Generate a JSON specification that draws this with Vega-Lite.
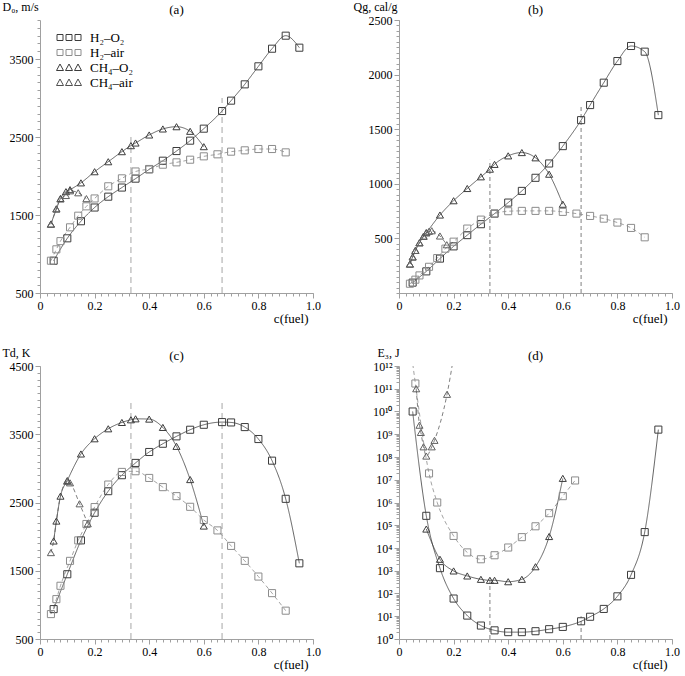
{
"$schema":"https://vega.github.io/schema/vega-lite/v6.json",
"padding":{"left":2,"top":0,"right":5,"bottom":5},
"config":{"view":{"stroke":null},"font":"Liberation Serif",
 "axis":{"labelFont":"Liberation Serif","titleFont":"Liberation Serif","labelFontSize":12,"titleFontWeight":"normal","titleColor":"#000","labelColor":"#000","grid":false,"domainColor":"#a0a0a0","tickColor":"#a0a0a0","labelFlush":false,"labelOverlap":false},
 "title":{"font":"Liberation Serif","fontSize":13,"fontWeight":"normal"},
 "legend":{"labelFont":"Liberation Serif"}},
"datasets":{
"rules":[
{"p":"a","c":0.333,"lo":500,"hi":2500},{"p":"a","c":0.667,"lo":500,"hi":3000},
{"p":"b","c":0.333,"lo":0,"hi":1220},{"p":"b","c":0.667,"lo":0,"hi":1720},
{"p":"c","c":0.333,"lo":500,"hi":4000},{"p":"c","c":0.667,"lo":500,"hi":4000},
{"p":"d","c":0.333,"lo":1,"hi":400},{"p":"d","c":0.667,"lo":1,"hi":10}],
"pts":[
{"p":"a","s":"H₂–O₂","c":0.05,"v":914,"m":1},{"p":"a","s":"H₂–O₂","c":0.1,"v":1201,"m":1},{"p":"a","s":"H₂–O₂","c":0.15,"v":1420,"m":1},{"p":"a","s":"H₂–O₂","c":0.2,"v":1596,"m":1},{"p":"a","s":"H₂–O₂","c":0.25,"v":1735,"m":1},{"p":"a","s":"H₂–O₂","c":0.3,"v":1852,"m":1},{"p":"a","s":"H₂–O₂","c":0.35,"v":1966,"m":1},{"p":"a","s":"H₂–O₂","c":0.4,"v":2085,"m":1},{"p":"a","s":"H₂–O₂","c":0.45,"v":2196,"m":1},{"p":"a","s":"H₂–O₂","c":0.5,"v":2320,"m":1},{"p":"a","s":"H₂–O₂","c":0.55,"v":2453,"m":1},{"p":"a","s":"H₂–O₂","c":0.6,"v":2607,"m":1},{"p":"a","s":"H₂–O₂","c":0.667,"v":2833,"m":1},{"p":"a","s":"H₂–O₂","c":0.7,"v":2966,"m":1},{"p":"a","s":"H₂–O₂","c":0.75,"v":3175,"m":1},{"p":"a","s":"H₂–O₂","c":0.8,"v":3406,"m":1},{"p":"a","s":"H₂–O₂","c":0.85,"v":3632,"m":1},{"p":"a","s":"H₂–O₂","c":0.9,"v":3799,"m":1},{"p":"a","s":"H₂–O₂","c":0.95,"v":3645,"m":1},
{"p":"a","s":"H₂–air","c":0.04,"v":914,"m":1},{"p":"a","s":"H₂–air","c":0.06,"v":1060,"m":1},{"p":"a","s":"H₂–air","c":0.075,"v":1165,"m":1},{"p":"a","s":"H₂–air","c":0.11,"v":1342,"m":1},{"p":"a","s":"H₂–air","c":0.14,"v":1491,"m":1},{"p":"a","s":"H₂–air","c":0.17,"v":1611,"m":1},{"p":"a","s":"H₂–air","c":0.2,"v":1712,"m":1},{"p":"a","s":"H₂–air","c":0.25,"v":1868,"m":1},{"p":"a","s":"H₂–air","c":0.3,"v":1970,"m":1},{"p":"a","s":"H₂–air","c":0.35,"v":2058,"m":1},{"p":"a","s":"H₂–air","c":0.4,"v":2090,"m":1},{"p":"a","s":"H₂–air","c":0.45,"v":2145,"m":1},{"p":"a","s":"H₂–air","c":0.5,"v":2175,"m":1},{"p":"a","s":"H₂–air","c":0.55,"v":2209,"m":1},{"p":"a","s":"H₂–air","c":0.6,"v":2252,"m":1},{"p":"a","s":"H₂–air","c":0.65,"v":2278,"m":1},{"p":"a","s":"H₂–air","c":0.7,"v":2312,"m":1},{"p":"a","s":"H₂–air","c":0.75,"v":2329,"m":1},{"p":"a","s":"H₂–air","c":0.8,"v":2346,"m":1},{"p":"a","s":"H₂–air","c":0.85,"v":2346,"m":1},{"p":"a","s":"H₂–air","c":0.9,"v":2303,"m":1},
{"p":"a","s":"CH₄–O₂","c":0.04,"v":1385,"m":1},{"p":"a","s":"CH₄–O₂","c":0.06,"v":1577,"m":1},{"p":"a","s":"CH₄–O₂","c":0.075,"v":1712,"m":1},{"p":"a","s":"CH₄–O₂","c":0.095,"v":1799,"m":1},{"p":"a","s":"CH₄–O₂","c":0.11,"v":1825,"m":1},{"p":"a","s":"CH₄–O₂","c":0.15,"v":1912,"m":1},{"p":"a","s":"CH₄–O₂","c":0.2,"v":2055,"m":1},{"p":"a","s":"CH₄–O₂","c":0.25,"v":2183,"m":1},{"p":"a","s":"CH₄–O₂","c":0.3,"v":2312,"m":1},{"p":"a","s":"CH₄–O₂","c":0.333,"v":2389,"m":1},{"p":"a","s":"CH₄–O₂","c":0.35,"v":2423,"m":1},{"p":"a","s":"CH₄–O₂","c":0.4,"v":2526,"m":1},{"p":"a","s":"CH₄–O₂","c":0.45,"v":2603,"m":1},{"p":"a","s":"CH₄–O₂","c":0.5,"v":2632,"m":1},{"p":"a","s":"CH₄–O₂","c":0.55,"v":2573,"m":1},{"p":"a","s":"CH₄–O₂","c":0.6,"v":2376,"m":1},
{"p":"a","s":"CH₄–air","c":0.04,"v":1380,"m":1},{"p":"a","s":"CH₄–air","c":0.06,"v":1580,"m":1},{"p":"a","s":"CH₄–air","c":0.075,"v":1705,"m":1},{"p":"a","s":"CH₄–air","c":0.095,"v":1750,"m":1},{"p":"a","s":"CH₄–air","c":0.11,"v":1810,"m":1},{"p":"a","s":"CH₄–air","c":0.14,"v":1785,"m":1},{"p":"a","s":"CH₄–air","c":0.17,"v":1710,"m":1},
{"p":"b","s":"H₂–O₂","c":0.05,"v":95,"m":1},{"p":"b","s":"H₂–O₂","c":0.1,"v":198,"m":1},{"p":"b","s":"H₂–O₂","c":0.15,"v":315,"m":1},{"p":"b","s":"H₂–O₂","c":0.2,"v":427,"m":1},{"p":"b","s":"H₂–O₂","c":0.25,"v":530,"m":1},{"p":"b","s":"H₂–O₂","c":0.3,"v":630,"m":1},{"p":"b","s":"H₂–O₂","c":0.35,"v":727,"m":1},{"p":"b","s":"H₂–O₂","c":0.4,"v":828,"m":1},{"p":"b","s":"H₂–O₂","c":0.45,"v":935,"m":1},{"p":"b","s":"H₂–O₂","c":0.5,"v":1055,"m":1},{"p":"b","s":"H₂–O₂","c":0.55,"v":1186,"m":1},{"p":"b","s":"H₂–O₂","c":0.6,"v":1345,"m":1},{"p":"b","s":"H₂–O₂","c":0.667,"v":1583,"m":1},{"p":"b","s":"H₂–O₂","c":0.7,"v":1721,"m":1},{"p":"b","s":"H₂–O₂","c":0.75,"v":1926,"m":1},{"p":"b","s":"H₂–O₂","c":0.8,"v":2124,"m":1},{"p":"b","s":"H₂–O₂","c":0.85,"v":2262,"m":1},{"p":"b","s":"H₂–O₂","c":0.9,"v":2210,"m":1},{"p":"b","s":"H₂–O₂","c":0.95,"v":1629,"m":1},
{"p":"b","s":"H₂–air","c":0.04,"v":85,"m":1},{"p":"b","s":"H₂–air","c":0.06,"v":122,"m":1},{"p":"b","s":"H₂–air","c":0.075,"v":161,"m":1},{"p":"b","s":"H₂–air","c":0.11,"v":240,"m":1},{"p":"b","s":"H₂–air","c":0.14,"v":320,"m":1},{"p":"b","s":"H₂–air","c":0.17,"v":406,"m":1},{"p":"b","s":"H₂–air","c":0.2,"v":470,"m":1},{"p":"b","s":"H₂–air","c":0.25,"v":590,"m":1},{"p":"b","s":"H₂–air","c":0.3,"v":672,"m":1},{"p":"b","s":"H₂–air","c":0.35,"v":727,"m":1},{"p":"b","s":"H₂–air","c":0.4,"v":749,"m":1},{"p":"b","s":"H₂–air","c":0.45,"v":752,"m":1},{"p":"b","s":"H₂–air","c":0.5,"v":752,"m":1},{"p":"b","s":"H₂–air","c":0.55,"v":752,"m":1},{"p":"b","s":"H₂–air","c":0.6,"v":743,"m":1},{"p":"b","s":"H₂–air","c":0.65,"v":727,"m":1},{"p":"b","s":"H₂–air","c":0.7,"v":706,"m":1},{"p":"b","s":"H₂–air","c":0.75,"v":681,"m":1},{"p":"b","s":"H₂–air","c":0.8,"v":645,"m":1},{"p":"b","s":"H₂–air","c":0.85,"v":596,"m":1},{"p":"b","s":"H₂–air","c":0.9,"v":510,"m":1},
{"p":"b","s":"CH₄–O₂","c":0.04,"v":265,"m":1},{"p":"b","s":"CH₄–O₂","c":0.05,"v":330,"m":1},{"p":"b","s":"CH₄–O₂","c":0.06,"v":390,"m":1},{"p":"b","s":"CH₄–O₂","c":0.075,"v":460,"m":1},{"p":"b","s":"CH₄–O₂","c":0.09,"v":520,"m":1},{"p":"b","s":"CH₄–O₂","c":0.1,"v":552,"m":1},{"p":"b","s":"CH₄–O₂","c":0.15,"v":714,"m":1},{"p":"b","s":"CH₄–O₂","c":0.2,"v":845,"m":1},{"p":"b","s":"CH₄–O₂","c":0.25,"v":957,"m":1},{"p":"b","s":"CH₄–O₂","c":0.3,"v":1064,"m":1},{"p":"b","s":"CH₄–O₂","c":0.333,"v":1134,"m":1},{"p":"b","s":"CH₄–O₂","c":0.35,"v":1178,"m":1},{"p":"b","s":"CH₄–O₂","c":0.4,"v":1256,"m":1},{"p":"b","s":"CH₄–O₂","c":0.45,"v":1286,"m":1},{"p":"b","s":"CH₄–O₂","c":0.5,"v":1238,"m":1},{"p":"b","s":"CH₄–O₂","c":0.55,"v":1088,"m":1},{"p":"b","s":"CH₄–O₂","c":0.6,"v":813,"m":1},
{"p":"b","s":"CH₄–air","c":0.04,"v":265,"m":1},{"p":"b","s":"CH₄–air","c":0.05,"v":330,"m":1},{"p":"b","s":"CH₄–air","c":0.06,"v":390,"m":1},{"p":"b","s":"CH₄–air","c":0.075,"v":460,"m":1},{"p":"b","s":"CH₄–air","c":0.09,"v":520,"m":1},{"p":"b","s":"CH₄–air","c":0.1,"v":552,"m":1},{"p":"b","s":"CH₄–air","c":0.11,"v":565,"m":1},{"p":"b","s":"CH₄–air","c":0.12,"v":570,"m":1},{"p":"b","s":"CH₄–air","c":0.15,"v":522,"m":1},{"p":"b","s":"CH₄–air","c":0.175,"v":442,"m":1},
{"p":"c","s":"H₂–O₂","c":0.05,"v":938,"m":1},{"p":"c","s":"H₂–O₂","c":0.1,"v":1449,"m":1},{"p":"c","s":"H₂–O₂","c":0.15,"v":1945,"m":1},{"p":"c","s":"H₂–O₂","c":0.2,"v":2350,"m":1},{"p":"c","s":"H₂–O₂","c":0.25,"v":2666,"m":1},{"p":"c","s":"H₂–O₂","c":0.3,"v":2900,"m":1},{"p":"c","s":"H₂–O₂","c":0.35,"v":3080,"m":1},{"p":"c","s":"H₂–O₂","c":0.4,"v":3240,"m":1},{"p":"c","s":"H₂–O₂","c":0.45,"v":3361,"m":1},{"p":"c","s":"H₂–O₂","c":0.5,"v":3469,"m":1},{"p":"c","s":"H₂–O₂","c":0.55,"v":3566,"m":1},{"p":"c","s":"H₂–O₂","c":0.6,"v":3639,"m":1},{"p":"c","s":"H₂–O₂","c":0.667,"v":3678,"m":1},{"p":"c","s":"H₂–O₂","c":0.7,"v":3673,"m":1},{"p":"c","s":"H₂–O₂","c":0.75,"v":3605,"m":1},{"p":"c","s":"H₂–O₂","c":0.8,"v":3430,"m":1},{"p":"c","s":"H₂–O₂","c":0.85,"v":3113,"m":1},{"p":"c","s":"H₂–O₂","c":0.9,"v":2554,"m":1},{"p":"c","s":"H₂–O₂","c":0.95,"v":1609,"m":1},
{"p":"c","s":"H₂–air","c":0.04,"v":865,"m":1},{"p":"c","s":"H₂–air","c":0.06,"v":1084,"m":1},{"p":"c","s":"H₂–air","c":0.075,"v":1280,"m":1},{"p":"c","s":"H₂–air","c":0.11,"v":1645,"m":1},{"p":"c","s":"H₂–air","c":0.14,"v":1945,"m":1},{"p":"c","s":"H₂–air","c":0.17,"v":2185,"m":1},{"p":"c","s":"H₂–air","c":0.2,"v":2433,"m":1},{"p":"c","s":"H₂–air","c":0.25,"v":2763,"m":1},{"p":"c","s":"H₂–air","c":0.3,"v":2948,"m":1},{"p":"c","s":"H₂–air","c":0.35,"v":2958,"m":1},{"p":"c","s":"H₂–air","c":0.4,"v":2860,"m":1},{"p":"c","s":"H₂–air","c":0.45,"v":2725,"m":1},{"p":"c","s":"H₂–air","c":0.5,"v":2593,"m":1},{"p":"c","s":"H₂–air","c":0.55,"v":2437,"m":1},{"p":"c","s":"H₂–air","c":0.6,"v":2243,"m":1},{"p":"c","s":"H₂–air","c":0.65,"v":2091,"m":1},{"p":"c","s":"H₂–air","c":0.7,"v":1864,"m":1},{"p":"c","s":"H₂–air","c":0.75,"v":1645,"m":1},{"p":"c","s":"H₂–air","c":0.8,"v":1415,"m":1},{"p":"c","s":"H₂–air","c":0.85,"v":1172,"m":1},{"p":"c","s":"H₂–air","c":0.9,"v":915,"m":1},
{"p":"c","s":"CH₄–O₂","c":0.05,"v":1936,"m":1},{"p":"c","s":"CH₄–O₂","c":0.06,"v":2228,"m":1},{"p":"c","s":"CH₄–O₂","c":0.075,"v":2593,"m":1},{"p":"c","s":"CH₄–O₂","c":0.1,"v":2821,"m":1},{"p":"c","s":"CH₄–O₂","c":0.15,"v":3211,"m":1},{"p":"c","s":"CH₄–O₂","c":0.2,"v":3434,"m":1},{"p":"c","s":"CH₄–O₂","c":0.25,"v":3580,"m":1},{"p":"c","s":"CH₄–O₂","c":0.3,"v":3673,"m":1},{"p":"c","s":"CH₄–O₂","c":0.333,"v":3712,"m":1},{"p":"c","s":"CH₄–O₂","c":0.35,"v":3726,"m":1},{"p":"c","s":"CH₄–O₂","c":0.4,"v":3722,"m":1},{"p":"c","s":"CH₄–O₂","c":0.45,"v":3600,"m":1},{"p":"c","s":"CH₄–O₂","c":0.5,"v":3323,"m":1},{"p":"c","s":"CH₄–O₂","c":0.55,"v":2836,"m":1},{"p":"c","s":"CH₄–O₂","c":0.6,"v":2155,"m":1},
{"p":"c","s":"CH₄–air","c":0.04,"v":1766,"m":1},{"p":"c","s":"CH₄–air","c":0.05,"v":1936,"m":0},{"p":"c","s":"CH₄–air","c":0.06,"v":2228,"m":0},{"p":"c","s":"CH₄–air","c":0.075,"v":2593,"m":0},{"p":"c","s":"CH₄–air","c":0.1,"v":2810,"m":1},{"p":"c","s":"CH₄–air","c":0.11,"v":2788,"m":1},{"p":"c","s":"CH₄–air","c":0.145,"v":2481,"m":1},{"p":"c","s":"CH₄–air","c":0.175,"v":2189,"m":1},
{"p":"d","s":"H₂–O₂","c":0.05,"v":1e10,"m":1},{"p":"d","s":"H₂–O₂","c":0.1,"v":2.6e5,"m":1},{"p":"d","s":"H₂–O₂","c":0.15,"v":1300,"m":1},{"p":"d","s":"H₂–O₂","c":0.2,"v":60,"m":1},{"p":"d","s":"H₂–O₂","c":0.25,"v":10.7,"m":1},{"p":"d","s":"H₂–O₂","c":0.3,"v":3.9,"m":1},{"p":"d","s":"H₂–O₂","c":0.35,"v":2.4,"m":1},{"p":"d","s":"H₂–O₂","c":0.4,"v":2.0,"m":1},{"p":"d","s":"H₂–O₂","c":0.45,"v":2.0,"m":1},{"p":"d","s":"H₂–O₂","c":0.5,"v":2.2,"m":1},{"p":"d","s":"H₂–O₂","c":0.55,"v":2.7,"m":1},{"p":"d","s":"H₂–O₂","c":0.6,"v":3.4,"m":1},{"p":"d","s":"H₂–O₂","c":0.667,"v":6.0,"m":1},{"p":"d","s":"H₂–O₂","c":0.7,"v":9.5,"m":1},{"p":"d","s":"H₂–O₂","c":0.75,"v":21,"m":1},{"p":"d","s":"H₂–O₂","c":0.8,"v":75,"m":1},{"p":"d","s":"H₂–O₂","c":0.85,"v":660,"m":1},{"p":"d","s":"H₂–O₂","c":0.9,"v":5e4,"m":1},{"p":"d","s":"H₂–O₂","c":0.95,"v":1.6e9,"m":1},
{"p":"d","s":"H₂–air","c":0.047,"v":2.5e12,"m":0},{"p":"d","s":"H₂–air","c":0.06,"v":1.7e11,"m":1},{"p":"d","s":"H₂–air","c":0.11,"v":1.9e7,"m":1},{"p":"d","s":"H₂–air","c":0.14,"v":1e6,"m":1},{"p":"d","s":"H₂–air","c":0.2,"v":3.4e4,"m":1},{"p":"d","s":"H₂–air","c":0.25,"v":6400,"m":1},{"p":"d","s":"H₂–air","c":0.3,"v":3200,"m":1},{"p":"d","s":"H₂–air","c":0.35,"v":4800,"m":1},{"p":"d","s":"H₂–air","c":0.4,"v":1.05e4,"m":1},{"p":"d","s":"H₂–air","c":0.45,"v":3e4,"m":1},{"p":"d","s":"H₂–air","c":0.5,"v":9e4,"m":1},{"p":"d","s":"H₂–air","c":0.55,"v":3.4e5,"m":1},{"p":"d","s":"H₂–air","c":0.6,"v":1.9e6,"m":1},{"p":"d","s":"H₂–air","c":0.645,"v":9.3e6,"m":1},
{"p":"d","s":"CH₄–O₂","c":0.1,"v":6.8e4,"m":1},{"p":"d","s":"CH₄–O₂","c":0.15,"v":3200,"m":1},{"p":"d","s":"CH₄–O₂","c":0.2,"v":980,"m":1},{"p":"d","s":"CH₄–O₂","c":0.25,"v":590,"m":1},{"p":"d","s":"CH₄–O₂","c":0.3,"v":420,"m":1},{"p":"d","s":"CH₄–O₂","c":0.333,"v":380,"m":1},{"p":"d","s":"CH₄–O₂","c":0.35,"v":380,"m":1},{"p":"d","s":"CH₄–O₂","c":0.4,"v":330,"m":1},{"p":"d","s":"CH₄–O₂","c":0.45,"v":420,"m":1},{"p":"d","s":"CH₄–O₂","c":0.5,"v":1500,"m":1},{"p":"d","s":"CH₄–O₂","c":0.55,"v":3.2e4,"m":1},{"p":"d","s":"CH₄–O₂","c":0.6,"v":1.15e7,"m":1},
{"p":"d","s":"CH₄–air","c":0.063,"v":1e11,"m":1},{"p":"d","s":"CH₄–air","c":0.075,"v":2.5e9,"m":1},{"p":"d","s":"CH₄–air","c":0.08,"v":1.2e9,"m":1},{"p":"d","s":"CH₄–air","c":0.09,"v":2.8e8,"m":1},{"p":"d","s":"CH₄–air","c":0.1,"v":1.1e8,"m":1},{"p":"d","s":"CH₄–air","c":0.12,"v":2.8e8,"m":1},{"p":"d","s":"CH₄–air","c":0.13,"v":5.4e8,"m":1},{"p":"d","s":"CH₄–air","c":0.176,"v":5.7e10,"m":1},{"p":"d","s":"CH₄–air","c":0.2,"v":2.5e12,"m":0}
]},
"columns":2,
"spacing":{"row":73,"column":86},
"bounds":"flush",
"resolve":{"scale":{"color":"independent","shape":"independent","strokeDash":"independent"}},
"concat":[
{"width":273,"height":273,"title":{"text":"(a)","offset":-17},
 "layer":[
  {"data":{"name":"rules"},"transform":[{"filter":"datum.p=='a'"}],
   "mark":{"type":"rule","color":"#c8c8c8","strokeWidth":1.6,"strokeDash":[6,4]},
   "encoding":{
    "x":{"field":"c","type":"quantitative","scale":{"domain":[0,1],"nice":false},"axis":{"orient":"bottom","values":[0,0.025,0.05,0.075,0.1,0.125,0.15,0.175,0.2,0.225,0.25,0.275,0.3,0.325,0.35,0.375,0.4,0.425,0.45,0.475,0.5,0.525,0.55,0.575,0.6,0.625,0.65,0.675,0.7,0.725,0.75,0.775,0.8,0.825,0.85,0.875,0.9,0.925,0.95,0.975,1],"labels":false,"domain":false,"tickSize":3,"title":null}},
    "y":{"field":"lo","type":"quantitative","scale":{"domain":[500,4000],"nice":false,"zero":false},"axis":{"orient":"left","values":[500,600,700,800,900,1000,1100,1200,1300,1400,1500,1600,1700,1800,1900,2000,2100,2200,2300,2400,2500,2600,2700,2800,2900,3000,3100,3200,3300,3400,3500,3600,3700,3800,3900,4000],"labels":false,"domain":false,"tickSize":3,"title":null}},
    "y2":{"field":"hi"}}},
  {"data":{"name":"pts"},"transform":[{"filter":"datum.p=='a'"}],
   "mark":{"type":"line","interpolate":"monotone","strokeWidth":0.8,"clip":true},
   "encoding":{
    "x":{"field":"c","type":"quantitative","axis":{"orient":"bottom","values":[0,0.2,0.4,0.6,0.8,1],"labelExpr":"datum.value==0?'0':format(datum.value,'.1f')","title":"c(fuel)","titleX":268,"titleY":29,"titleAlign":"right","titleBaseline":"alphabetic","titleFontSize":13,"tickSize":5,"labelPadding":2}},
    "y":{"field":"v","type":"quantitative","axis":{"orient":"left","format":"d","values":[500,1500,2500,3500],"title":"D₀, m/s","titleAngle":0,"titleX":-38,"titleY":-10,"titleAlign":"left","titleBaseline":"alphabetic","titleFontSize":12,"tickSize":5,"labelPadding":2}},
    "color":{"field":"s","type":"nominal","scale":{"domain":["H₂–air","H₂–O₂","CH₄–O₂","CH₄–air"],"range":["#8c8c8c","#3c3c3c","#3c3c3c","#606060"]},"legend":null},
    "strokeDash":{"field":"s","type":"nominal","scale":{"domain":["H₂–O₂","CH₄–O₂","H₂–air","CH₄–air"],"range":[[1,0],[1,0],[4,3],[4,3]]},"legend":null}}},
  {"data":{"name":"pts"},"transform":[{"filter":"datum.p=='a' && datum.m==1"}],
   "mark":{"type":"point","filled":false,"size":50,"strokeWidth":1,"opacity":1},
   "encoding":{
    "x":{"field":"c","type":"quantitative","axis":null},
    "y":{"field":"v","type":"quantitative","axis":null},
    "color":{"field":"s","type":"nominal","scale":{"domain":["H₂–air","H₂–O₂","CH₄–O₂","CH₄–air"],"range":["#8c8c8c","#3c3c3c","#3c3c3c","#606060"]},"legend":null},
    "shape":{"field":"s","type":"nominal","scale":{"domain":["H₂–air","H₂–O₂","CH₄–O₂","CH₄–air"],"range":["square","square","triangle-up","triangle-up"]},"legend":null}}},
  {"data":{"name":"pts"},"transform":[{"filter":"datum.p=='none'"}],
   "mark":{"type":"point","filled":false,"strokeWidth":1,"opacity":1},
   "encoding":{
    "color":{"field":"s","type":"nominal","scale":{"domain":["H₂–O₂","H₂–air","CH₄–O₂","CH₄–air"],"range":["#3c3c3c","#8c8c8c","#3c3c3c","#505050"]},
     "legend":{"orient":"none","legendX":10.5,"legendY":11,"title":null,"padding":0,"labelFontSize":13,"symbolSize":100,"symbolStrokeWidth":1,"symbolOffset":12,"labelOffset":14.5,"rowPadding":1,"symbolOpacity":1,"symbolFillColor":"transparent"}},
    "shape":{"field":"s","type":"nominal","scale":{"domain":["H₂–O₂","H₂–air","CH₄–O₂","CH₄–air"],"range":["M-2.4,-0.6H-1.2V0.6H-2.4ZM-0.6,-0.6H0.6V0.6H-0.6ZM1.2,-0.6H2.4V0.6H1.2Z","M-2.4,-0.6H-1.2V0.6H-2.4ZM-0.6,-0.6H0.6V0.6H-0.6ZM1.2,-0.6H2.4V0.6H1.2Z","M-1.8,-0.7L-1.1,0.6L-2.5,0.6ZM0,-0.7L0.7,0.6L-0.7,0.6ZM1.8,-0.7L2.5,0.6L1.1,0.6Z","M-1.8,-0.7L-1.1,0.6L-2.5,0.6ZM0,-0.7L0.7,0.6L-0.7,0.6ZM1.8,-0.7L2.5,0.6L1.1,0.6Z"]},
     "legend":{"orient":"none","legendX":10.5,"legendY":11,"title":null,"padding":0,"labelFontSize":13,"symbolSize":100,"symbolStrokeWidth":1,"symbolOffset":12,"labelOffset":14.5,"rowPadding":1,"symbolOpacity":1,"symbolFillColor":"transparent"}}}}
 ],
 "resolve":{"axis":{"x":"independent","y":"independent"},"scale":{"shape":"independent","color":"independent"}}},
{"width":273,"height":273,"title":{"text":"(b)","offset":-17},
 "layer":[
  {"data":{"name":"rules"},"transform":[{"filter":"datum.p=='b'"}],
   "mark":{"type":"rule","color":"#808080","strokeWidth":1,"strokeDash":[4,3]},
   "encoding":{
    "x":{"field":"c","type":"quantitative","scale":{"domain":[0,1],"nice":false},"axis":{"orient":"bottom","values":[0,0.025,0.05,0.075,0.1,0.125,0.15,0.175,0.2,0.225,0.25,0.275,0.3,0.325,0.35,0.375,0.4,0.425,0.45,0.475,0.5,0.525,0.55,0.575,0.6,0.625,0.65,0.675,0.7,0.725,0.75,0.775,0.8,0.825,0.85,0.875,0.9,0.925,0.95,0.975,1],"labels":false,"domain":false,"tickSize":3,"title":null}},
    "y":{"field":"lo","type":"quantitative","scale":{"domain":[0,2500],"nice":false},"axis":{"orient":"left","values":[0,50,100,150,200,250,300,350,400,450,500,550,600,650,700,750,800,850,900,950,1000,1050,1100,1150,1200,1250,1300,1350,1400,1450,1500,1550,1600,1650,1700,1750,1800,1850,1900,1950,2000,2050,2100,2150,2200,2250,2300,2350,2400,2450,2500],"labels":false,"domain":false,"tickSize":3,"title":null}},
    "y2":{"field":"hi"}}},
  {"data":{"name":"pts"},"transform":[{"filter":"datum.p=='b'"}],
   "mark":{"type":"line","interpolate":"monotone","strokeWidth":0.8,"clip":true},
   "encoding":{
    "x":{"field":"c","type":"quantitative","axis":{"orient":"bottom","values":[0,0.2,0.4,0.6,0.8,1],"labelExpr":"datum.value==0?'0':format(datum.value,'.1f')","title":"c(fuel)","titleX":268,"titleY":29,"titleAlign":"right","titleBaseline":"alphabetic","titleFontSize":13,"tickSize":5,"labelPadding":2}},
    "y":{"field":"v","type":"quantitative","axis":{"orient":"left","format":"d","values":[500,1000,1500,2000,2500],"title":"Qg, cal/g","titleAngle":0,"titleX":-46,"titleY":-10,"titleAlign":"left","titleBaseline":"alphabetic","titleFontSize":12,"tickSize":5,"labelPadding":2}},
    "color":{"field":"s","type":"nominal","scale":{"domain":["H₂–air","H₂–O₂","CH₄–O₂","CH₄–air"],"range":["#8c8c8c","#3c3c3c","#3c3c3c","#606060"]},"legend":null},
    "strokeDash":{"field":"s","type":"nominal","scale":{"domain":["H₂–O₂","CH₄–O₂","H₂–air","CH₄–air"],"range":[[1,0],[1,0],[4,3],[4,3]]},"legend":null}}},
  {"data":{"name":"pts"},"transform":[{"filter":"datum.p=='b' && datum.m==1"}],
   "mark":{"type":"point","filled":false,"size":50,"strokeWidth":1,"opacity":1},
   "encoding":{
    "x":{"field":"c","type":"quantitative","axis":null},
    "y":{"field":"v","type":"quantitative","axis":null},
    "color":{"field":"s","type":"nominal","scale":{"domain":["H₂–air","H₂–O₂","CH₄–O₂","CH₄–air"],"range":["#8c8c8c","#3c3c3c","#3c3c3c","#606060"]},"legend":null},
    "shape":{"field":"s","type":"nominal","scale":{"domain":["H₂–O₂","H₂–air","CH₄–O₂","CH₄–air"],"range":["square","square","triangle-up","triangle-up"]},"legend":null}}}
 ],
 "resolve":{"axis":{"x":"independent","y":"independent"}}},
{"width":273,"height":273,"title":{"text":"(c)","offset":-17},
 "layer":[
  {"data":{"name":"rules"},"transform":[{"filter":"datum.p=='c'"}],
   "mark":{"type":"rule","color":"#c8c8c8","strokeWidth":1.6,"strokeDash":[6,4]},
   "encoding":{
    "x":{"field":"c","type":"quantitative","scale":{"domain":[0,1],"nice":false},"axis":{"orient":"bottom","values":[0,0.025,0.05,0.075,0.1,0.125,0.15,0.175,0.2,0.225,0.25,0.275,0.3,0.325,0.35,0.375,0.4,0.425,0.45,0.475,0.5,0.525,0.55,0.575,0.6,0.625,0.65,0.675,0.7,0.725,0.75,0.775,0.8,0.825,0.85,0.875,0.9,0.925,0.95,0.975,1],"labels":false,"domain":false,"tickSize":3,"title":null}},
    "y":{"field":"lo","type":"quantitative","scale":{"domain":[500,4500],"nice":false,"zero":false},"axis":{"orient":"left","values":[500,600,700,800,900,1000,1100,1200,1300,1400,1500,1600,1700,1800,1900,2000,2100,2200,2300,2400,2500,2600,2700,2800,2900,3000,3100,3200,3300,3400,3500,3600,3700,3800,3900,4000,4100,4200,4300,4400,4500],"labels":false,"domain":false,"tickSize":3,"title":null}},
    "y2":{"field":"hi"}}},
  {"data":{"name":"pts"},"transform":[{"filter":"datum.p=='c'"}],
   "mark":{"type":"line","interpolate":"monotone","strokeWidth":0.8,"clip":true},
   "encoding":{
    "x":{"field":"c","type":"quantitative","axis":{"orient":"bottom","values":[0,0.2,0.4,0.6,0.8,1],"labelExpr":"datum.value==0?'0':format(datum.value,'.1f')","title":"c(fuel)","titleX":268,"titleY":29,"titleAlign":"right","titleBaseline":"alphabetic","titleFontSize":13,"tickSize":5,"labelPadding":2}},
    "y":{"field":"v","type":"quantitative","axis":{"orient":"left","format":"d","values":[500,1500,2500,3500,4500],"title":"Td, K","titleAngle":0,"titleX":-38,"titleY":-10,"titleAlign":"left","titleBaseline":"alphabetic","titleFontSize":12,"tickSize":5,"labelPadding":2}},
    "color":{"field":"s","type":"nominal","scale":{"domain":["H₂–air","H₂–O₂","CH₄–O₂","CH₄–air"],"range":["#8c8c8c","#3c3c3c","#3c3c3c","#606060"]},"legend":null},
    "strokeDash":{"field":"s","type":"nominal","scale":{"domain":["H₂–O₂","CH₄–O₂","H₂–air","CH₄–air"],"range":[[1,0],[1,0],[4,3],[4,3]]},"legend":null}}},
  {"data":{"name":"pts"},"transform":[{"filter":"datum.p=='c' && datum.m==1"}],
   "mark":{"type":"point","filled":false,"size":50,"strokeWidth":1,"opacity":1},
   "encoding":{
    "x":{"field":"c","type":"quantitative","axis":null},
    "y":{"field":"v","type":"quantitative","axis":null},
    "color":{"field":"s","type":"nominal","scale":{"domain":["H₂–air","H₂–O₂","CH₄–O₂","CH₄–air"],"range":["#8c8c8c","#3c3c3c","#3c3c3c","#606060"]},"legend":null},
    "shape":{"field":"s","type":"nominal","scale":{"domain":["H₂–O₂","H₂–air","CH₄–O₂","CH₄–air"],"range":["square","square","triangle-up","triangle-up"]},"legend":null}}}
 ],
 "resolve":{"axis":{"x":"independent","y":"independent"}}},
{"width":273,"height":273,"title":{"text":"(d)","offset":-17},
 "layer":[
  {"data":{"name":"rules"},"transform":[{"filter":"datum.p=='d'"}],
   "mark":{"type":"rule","color":"#808080","strokeWidth":1,"strokeDash":[4,3]},
   "encoding":{
    "x":{"field":"c","type":"quantitative","scale":{"domain":[0,1],"nice":false},"axis":{"orient":"bottom","values":[0,0.025,0.05,0.075,0.1,0.125,0.15,0.175,0.2,0.225,0.25,0.275,0.3,0.325,0.35,0.375,0.4,0.425,0.45,0.475,0.5,0.525,0.55,0.575,0.6,0.625,0.65,0.675,0.7,0.725,0.75,0.775,0.8,0.825,0.85,0.875,0.9,0.925,0.95,0.975,1],"labels":false,"domain":false,"tickSize":3,"title":null}},
    "y":{"field":"lo","type":"quantitative","scale":{"type":"log","domain":[1,1e12],"nice":false},"axis":{"orient":"left","values":[2,3,4,5,6,7,8,9,20,30,40,50,60,70,80,90,200,300,400,500,600,700,800,900,2e3,3e3,4e3,5e3,6e3,7e3,8e3,9e3,2e4,3e4,4e4,5e4,6e4,7e4,8e4,9e4,2e5,3e5,4e5,5e5,6e5,7e5,8e5,9e5,2e6,3e6,4e6,5e6,6e6,7e6,8e6,9e6,2e7,3e7,4e7,5e7,6e7,7e7,8e7,9e7,2e8,3e8,4e8,5e8,6e8,7e8,8e8,9e8,2e9,3e9,4e9,5e9,6e9,7e9,8e9,9e9,2e10,3e10,4e10,5e10,6e10,7e10,8e10,9e10,2e11,3e11,4e11,5e11,6e11,7e11,8e11,9e11],"labels":false,"domain":false,"tickSize":3,"title":null}},
    "y2":{"field":"hi"}}},
  {"data":{"name":"pts"},"transform":[{"filter":"datum.p=='d'"}],
   "mark":{"type":"line","interpolate":"monotone","strokeWidth":0.8,"clip":true},
   "encoding":{
    "x":{"field":"c","type":"quantitative","axis":{"orient":"bottom","values":[0,0.2,0.4,0.6,0.8,1],"labelExpr":"datum.value==0?'0':format(datum.value,'.1f')","title":"c(fuel)","titleX":268,"titleY":29,"titleAlign":"right","titleBaseline":"alphabetic","titleFontSize":13,"tickSize":5,"labelPadding":2}},
    "y":{"field":"v","type":"quantitative","axis":{"orient":"left","values":[1,10,100,1000,1e4,1e5,1e6,1e7,1e8,1e9,1e10,1e11,1e12],"labelExpr":"'10'+['⁰','¹','²','³','⁴','⁵','⁶','⁷','⁸','⁹','¹⁰','¹¹','¹²'][round(log(datum.value)/LN10)]","title":"E₃, J","titleAngle":0,"titleX":-22,"titleY":-10,"titleAlign":"left","titleBaseline":"alphabetic","titleFontSize":12,"tickSize":5,"labelPadding":2}},
    "color":{"field":"s","type":"nominal","scale":{"domain":["H₂–air","H₂–O₂","CH₄–O₂","CH₄–air"],"range":["#8c8c8c","#3c3c3c","#3c3c3c","#606060"]},"legend":null},
    "strokeDash":{"field":"s","type":"nominal","scale":{"domain":["H₂–O₂","CH₄–O₂","H₂–air","CH₄–air"],"range":[[1,0],[1,0],[4,3],[4,3]]},"legend":null}}},
  {"data":{"name":"pts"},"transform":[{"filter":"datum.p=='d' && datum.m==1"}],
   "mark":{"type":"point","filled":false,"size":50,"strokeWidth":1,"opacity":1},
   "encoding":{
    "x":{"field":"c","type":"quantitative","axis":null},
    "y":{"field":"v","type":"quantitative","axis":null},
    "color":{"field":"s","type":"nominal","scale":{"domain":["H₂–air","H₂–O₂","CH₄–O₂","CH₄–air"],"range":["#8c8c8c","#3c3c3c","#3c3c3c","#606060"]},"legend":null},
    "shape":{"field":"s","type":"nominal","scale":{"domain":["H₂–O₂","H₂–air","CH₄–O₂","CH₄–air"],"range":["square","square","triangle-up","triangle-up"]},"legend":null}}}
 ],
 "resolve":{"axis":{"x":"independent","y":"independent"}}}
]
}
